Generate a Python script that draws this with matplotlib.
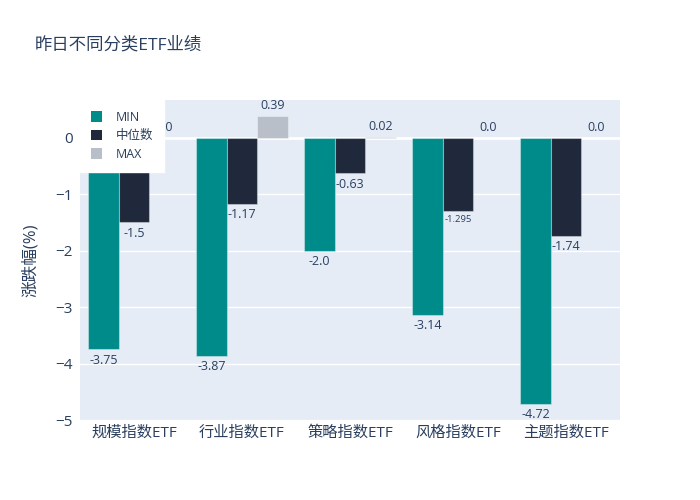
import matplotlib
matplotlib.use("Agg")
import matplotlib.pyplot as plt
import numpy as np
from matplotlib.patches import Patch

plt.rcParams['font.family'] = ['Open Sans', 'Noto Sans CJK SC', 'DejaVu Sans']
plt.rcParams['axes.unicode_minus'] = True

categories = ["规模指数ETF", "行业指数ETF", "策略指数ETF", "风格指数ETF", "主题指数ETF"]
series_names = ["MIN", "中位数", "MAX"]
min_vals = [-3.75, -3.87, -2.0, -3.14, -4.72]
median_vals = [-1.5, -1.17, -0.63, -1.295, -1.74]
max_vals = [0.0, 0.39, 0.02, 0.0, 0.0]
yticks = [0, -1, -2, -3, -4, -5]

colors = ["#008b8b", "#1f293b", "#b9bfc8"]
text_color = "#2a3f5f"

fig = plt.figure(figsize=(7, 5), dpi=100)
ax = fig.add_axes([80/700, 80/500, 540/700, 320/500])
ax.set_facecolor("#e5ecf6")

x = np.arange(len(categories))
w = 0.85 / 3
all_series = [min_vals, median_vals, max_vals]
for i, (vals, col, name) in enumerate(zip(all_series, colors, series_names)):
    pos = x + (i - 1) * w
    ax.bar(pos, vals, width=w, color=col, edgecolor=(1, 1, 1, 0.35), linewidth=0.8,
           label=name, zorder=3)
    for p, v in zip(pos, vals):
        s = str(v)
        fs = 6.8 if len(s) > 5 else 9
        if v < 0:
            ax.annotate(s, (p, v), xytext=(0, -3), textcoords="offset points",
                        ha="center", va="top", fontsize=fs, color=text_color, zorder=4)
        else:
            ax.annotate(s, (p, v), xytext=(0, 3), textcoords="offset points",
                        ha="center", va="bottom", fontsize=fs, color=text_color, zorder=4)

ax.set_xlim(-0.5, len(categories) - 0.5)
ax.set_ylim(-5.0, 0.67)
ax.set_yticks(yticks)
ax.set_yticklabels([f"{t}".replace("-", "\u2212") for t in yticks])
ax.set_xticks(x)
ax.set_xticklabels(categories)
ax.tick_params(axis='both', length=0, labelsize=11, colors=text_color)
ax.tick_params(axis='y', pad=5)
ax.tick_params(axis='x', pad=4)
ax.grid(axis='y', color='white', linewidth=1, zorder=0)
ax.axhline(0, color='white', linewidth=2, zorder=1)
for s in ax.spines.values():
    s.set_visible(False)

ax.set_ylabel("涨跌幅(%)", fontsize=12, color=text_color, labelpad=12)

fig.text(35/700, 1 - 45/500, "昨日不同分类ETF业绩", fontsize=12.5, color=text_color,
         ha="left", va="center")

handles = [Patch(facecolor=c, edgecolor='none') for c in colors]
leg = ax.legend(handles, series_names, loc="upper left", bbox_to_anchor=(0, 1),
                borderaxespad=0, frameon=True, fancybox=False, facecolor="white",
                edgecolor="white", framealpha=1, fontsize=9, handlelength=0.9,
                handleheight=0.9, handletextpad=1.1, labelspacing=0.45,
                borderpad=0.85, labelcolor=text_color)
leg.set_zorder(10)

fig.savefig("out.png", dpi=100)
